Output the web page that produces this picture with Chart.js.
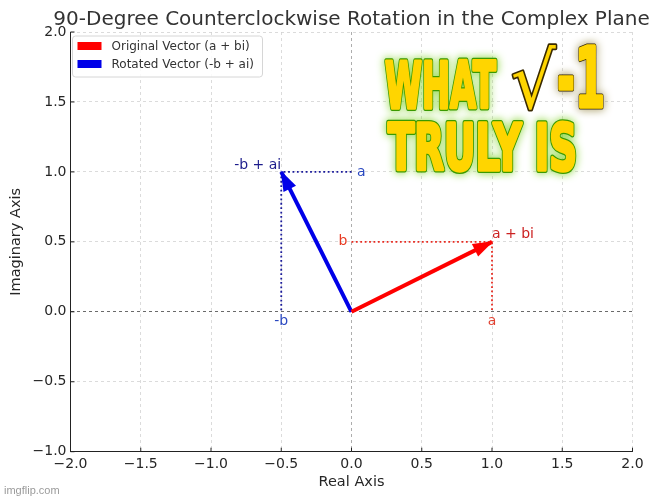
<!DOCTYPE html>
<html>
<head>
<meta charset="utf-8">
<script src="https://cdn.jsdelivr.net/npm/chart.js@4.4.1/dist/chart.umd.min.js"></script>
<style>
  html, body { margin: 0; padding: 0; background: #fff; }
  canvas { display: block; }
</style>
</head>
<body>
<canvas id="plane" width="662" height="500"></canvas>
<script>
// ---- data (complex plane coordinates) ----
const originalX = [0, 1];
const originalY = [0, 0.5];
const rotatedX = [0, -0.5];
const rotatedY = [0, 1];
const origGuideX = [0, 1, 1];
const origGuideY = [0.5, 0.5, 0];
const rotGuideX = [0, -0.5, -0.5];
const rotGuideY = [1, 1, 0];
const xRange = [-2, 2];
const yRange = [-1, 2];
const tickStep = 0.5;
const noteText = ['a + bi', 'b', 'a', '-b + ai', 'a', '-b'];
const noteX = [1, -0.03, 1, -0.5, 0.04, -0.5];
const noteY = [0.5, 0.5, -0.065, 1, 1, -0.07];
const legendLabels = ['Original Vector (a + bi)', 'Rotated Vector (-b + ai)'];
const titleText = '90-Degree Counterclockwise Rotation in the Complex Plane';
const xTitle = 'Real Axis';
const yTitle = 'Imaginary Axis';

const RED = '#f00', BLUE = '#0000e8';
const FONT = "'DejaVu Sans', sans-serif";
const zip = (xs, ys) => xs.map((x, i) => ({ x, y: ys[i] }));
const fmtTick = v => (v < 0 ? '\u2212' : '') + Math.abs(v).toFixed(1);

// ---- drawing helpers ----
const noteAlign = ['left', 'right', 'center', 'right', 'left', 'center'];
const noteBase = ['bottom', 'middle', 'middle', 'bottom', 'middle', 'middle'];
const noteColor = ['#cc2222', '#e83a22', '#e04030', '#1c1c8c', '#2a48c0', '#2a48c0'];

// squeezed heavy caption text, outline + glow
function memeText(ctx, text, x, base, width, size, fill, stroke, lw, glow) {
  ctx.save();
  ctx.font = `bold ${size}px 'DejaVu Sans Condensed', 'DejaVu Sans', sans-serif`;
  ctx.textAlign = 'left';
  ctx.textBaseline = 'alphabetic';
  const w = ctx.measureText(text).width;
  ctx.translate(x, base);
  ctx.scale(width / w, 1);
  ctx.lineJoin = 'round';
  if (glow) { ctx.shadowColor = glow; ctx.shadowBlur = 8; }
  ctx.strokeStyle = stroke;
  ctx.lineWidth = lw;
  ctx.strokeText(text, 0, 0);
  ctx.shadowBlur = 0;
  ctx.strokeStyle = fill;
  ctx.lineWidth = 3.5;
  ctx.strokeText(text, 0, 0);
  ctx.fillStyle = fill;
  ctx.fillText(text, 0, 0);
  ctx.restore();
}

const decor = {
  id: 'decor',
  beforeDatasetsDraw(chart) {
    // inward tick marks like the original
    const { ctx, chartArea: a, scales: { x, y } } = chart;
    ctx.save();
    ctx.strokeStyle = '#222';
    ctx.lineWidth = 1;
    ctx.beginPath();
    x.ticks.forEach(t => { const px = x.getPixelForValue(t.value); ctx.moveTo(px, a.bottom); ctx.lineTo(px, a.bottom - 4); });
    y.ticks.forEach(t => { const py = y.getPixelForValue(t.value); ctx.moveTo(a.left, py); ctx.lineTo(a.left + 4, py); });
    ctx.stroke();
    ctx.restore();
  },
  afterDatasetsDraw(chart) {
    const { ctx, scales: { x, y } } = chart;
    // arrow heads
    chart.data.datasets.forEach((ds, i) => {
      if (!ds.arrow) return;
      const pts = chart.getDatasetMeta(i).data;
      const p0 = pts[0], p1 = pts[pts.length - 1];
      const ang = Math.atan2(p1.y - p0.y, p1.x - p0.x);
      const L = 19, H = 7;
      const bx = p1.x - L * Math.cos(ang), by = p1.y - L * Math.sin(ang);
      ctx.save();
      ctx.fillStyle = ds.borderColor;
      ctx.beginPath();
      ctx.moveTo(p1.x + 1.5 * Math.cos(ang), p1.y + 1.5 * Math.sin(ang));
      ctx.lineTo(bx - H * Math.sin(ang), by + H * Math.cos(ang));
      ctx.lineTo(bx + H * Math.sin(ang), by - H * Math.cos(ang));
      ctx.closePath();
      ctx.fill();
      ctx.restore();
    });
    // point labels
    ctx.save();
    ctx.font = `14px ${FONT}`;
    noteText.forEach((t, i) => {
      ctx.fillStyle = noteColor[i];
      ctx.textAlign = noteAlign[i];
      ctx.textBaseline = noteBase[i];
      ctx.fillText(t, x.getPixelForValue(noteX[i]), y.getPixelForValue(noteY[i]));
    });
    ctx.restore();
  },
  afterDraw(chart) {
    const { ctx, chartArea: a } = chart;
    ctx.save();
    // title
    ctx.fillStyle = '#333';
    ctx.font = `20px ${FONT}`;
    ctx.textAlign = 'center';
    ctx.textBaseline = 'alphabetic';
    ctx.fillText(titleText, (a.left + a.right) / 2, 25);
    // legend
    const lx = a.left + 2, ly = a.top + 4, lw = 190, lh = 41;
    ctx.fillStyle = 'rgba(255,255,255,0.85)';
    ctx.strokeStyle = '#d6d6d6';
    ctx.lineWidth = 1;
    ctx.beginPath();
    ctx.roundRect(lx, ly, lw, lh, 3);
    ctx.fill();
    ctx.stroke();
    const swatches = [RED, BLUE];
    ctx.font = `12px ${FONT}`;
    ctx.textAlign = 'left';
    ctx.textBaseline = 'middle';
    legendLabels.forEach((t, i) => {
      const cy = ly + 10 + i * 18;
      ctx.fillStyle = swatches[i];
      ctx.fillRect(lx + 5, cy - 4, 24, 8);
      ctx.fillStyle = '#333';
      ctx.fillText(t, lx + 39, cy + 1);
    });
    // meme caption
    memeText(ctx, 'WHAT', 385, 108, 111, 64, '#ffd500', '#3a9a00', 6, '#7ad020');
    memeText(ctx, 'TRULY IS', 388, 170, 189, 64, '#ffd500', '#3a9a00', 6, '#7ad020');
    ctx.save();
    ctx.font = `78px ${FONT}`;
    ctx.textAlign = 'left';
    ctx.textBaseline = 'alphabetic';
    ctx.translate(511, 108);
    ctx.scale(0.9, 1);
    ctx.lineJoin = 'round';
    ctx.strokeStyle = '#3a2a00';
    ctx.lineWidth = 3.5;
    ctx.strokeText('\u221A', 0, 0);
    ctx.fillStyle = '#ffd500';
    ctx.fillText('\u221A', 0, 0);
    ctx.restore();
    memeText(ctx, '-1', 557, 107, 48, 84, '#ffd500', '#2a1c00', 5, '#8a7a30');
    // watermark
    ctx.fillStyle = '#9a9a9a';
    ctx.font = "11px 'Liberation Sans', Arial, sans-serif";
    ctx.textAlign = 'left';
    ctx.textBaseline = 'alphabetic';
    ctx.fillText('imgflip.com', 4, 494);
    ctx.restore();
  }
};

const axisTick = { size: 14, family: FONT };
const gridDash = { dash: [3, 3], display: true, color: '#222', width: 1 };

new Chart(document.getElementById('plane'), {
  type: 'scatter',
  data: {
    datasets: [
      { label: 'origGuide', data: zip(origGuideX, origGuideY), showLine: true, borderColor: '#e82a20', borderWidth: 1.8, borderDash: [1.8, 2.6], pointRadius: 0 },
      { label: 'rotGuide', data: zip(rotGuideX, rotGuideY), showLine: true, borderColor: '#1a1a9a', borderWidth: 1.8, borderDash: [1.8, 2.6], pointRadius: 0 },
      { label: legendLabels[0], data: zip(originalX, originalY), showLine: true, borderColor: RED, backgroundColor: RED, borderWidth: 4, pointRadius: 0, arrow: true },
      { label: legendLabels[1], data: zip(rotatedX, rotatedY), showLine: true, borderColor: BLUE, backgroundColor: BLUE, borderWidth: 4, pointRadius: 0, arrow: true }
    ]
  },
  options: {
    responsive: false,
    animation: false,
    layout: { padding: { left: 0, top: 32, right: 29.5, bottom: 0 } },
    plugins: { legend: { display: false }, tooltip: { enabled: false } },
    scales: {
      x: {
        type: 'linear', min: xRange[0], max: xRange[1],
        ticks: { stepSize: tickStep, callback: fmtTick, font: axisTick, color: '#262626', padding: 4, maxRotation: 0 },
        grid: { color: c => (c.tick && c.tick.value === 0 ? '#999' : '#d2d2d2'), lineWidth: 0.8, drawTicks: false },
        border: gridDash,
        title: { display: true, text: xTitle, font: { size: 14.5, family: FONT }, color: '#262626', padding: 9 },
        afterFit: s => { s.height = 48.3; }
      },
      y: {
        type: 'linear', min: yRange[0], max: yRange[1],
        ticks: { stepSize: tickStep, callback: fmtTick, font: axisTick, color: '#262626', padding: 4 },
        grid: { color: c => (c.tick && c.tick.value === 0 ? '#444' : '#d2d2d2'), lineWidth: 0.8, drawTicks: false },
        border: gridDash,
        title: { display: true, text: yTitle, font: { size: 14.5, family: FONT }, color: '#262626', padding: 8 },
        afterFit: s => { s.width = 70.5; }
      }
    }
  },
  plugins: [decor]
});
</script>
</body>
</html>
